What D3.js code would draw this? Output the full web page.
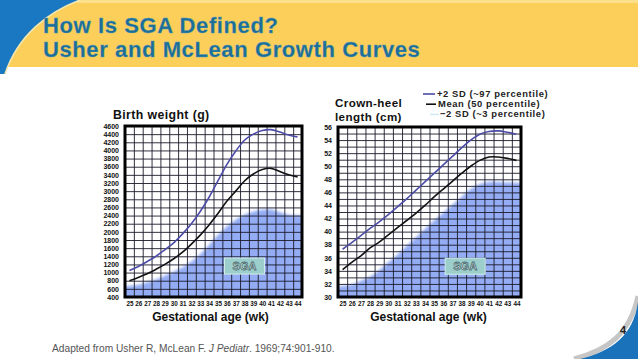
<!DOCTYPE html>
<html>
<head>
<meta charset="utf-8">
<script src="https://cdn.jsdelivr.net/npm/d3@7"></script>
<style>
  body { margin: 0; background: #fff; }
  text { font-family: "Liberation Sans", Arial, sans-serif; }
</style>
</head>
<body>
<div class="slide"></div>
<script>
// gestational age categories (weeks)
var weeks = [25,26,27,28,29,30,31,32,33,34,35,36,37,38,39,40,41,42,43,44];

// birth weight (g)
var bwPlus2 = [1050,1150,1270,1400,1560,1730,1950,2200,2500,2850,3250,3650,3980,4250,4400,4490,4510,4450,4380,4330];
var bwMean  = [800,880,970,1080,1200,1340,1500,1700,1920,2170,2450,2750,3000,3250,3420,3530,3560,3480,3400,3350];
var bwMinus2 = [650,700,760,830,920,1020,1130,1270,1450,1680,1920,2130,2300,2420,2500,2540,2550,2480,2420,2400];

// crown-heel length (cm)
var lenPlus2 = [37.3,38.3,39.4,40.5,41.5,42.6,43.8,45.0,46.3,47.6,48.9,50.2,51.5,52.8,54.0,54.9,55.3,55.4,55.2,54.9];
var lenMean  = [34.2,35.3,36.3,37.5,38.4,39.5,40.6,41.7,42.8,44.0,45.3,46.5,47.7,48.9,50.0,50.9,51.4,51.4,51.2,50.9];
var lenMinus2 = [31.5,31.9,32.5,33.1,34.1,35.3,36.5,37.8,39.1,40.4,41.7,42.9,44.1,45.3,46.5,47.3,47.6,47.6,47.5,47.4];

var bwTicks = d3.range(400, 4601, 200);
var lenTicks = d3.range(30, 57, 2);
var lenGrid = d3.range(30, 57, 1);

var legendLabels = ["+2 SD (~97 percentile)", "Mean  (50 percentile)", "\u22122 SD (~3 percentile)"];

var W = 638, H = 359;
var svg = d3.select(".slide").append("svg").attr("width", W).attr("height", H);
var defs = svg.append("defs");

// ---- slide decoration ----
svg.append("rect").attr("width", W).attr("height", 67).attr("fill", "#fbcf5a");
svg.append("rect").attr("width", W).attr("height", 3).attr("fill", "#fde08c");
svg.append("path")
  .attr("d", "M0,0 L80,0 C48,12 18,35 5,74 L0,74 Z")
  .attr("fill", "#1a78c2");
svg.append("path")
  .attr("d", "M80,0 C48,12 18,35 5,74")
  .attr("fill", "none").attr("stroke", "#f4e7b0").attr("stroke-width", 1.5);

// bottom right swoosh
svg.append("path")
  .attr("d", "M574,359 C608,350 630,334 638,296")
  .attr("fill", "none").attr("stroke", "#c6c6c6").attr("stroke-width", 5);
svg.append("path")
  .attr("d", "M580,359 C612,351 633,336 638,302 L638,359 Z")
  .attr("fill", "#1a72bb");

// title
var title = svg.append("g").attr("fill", "#1b6e98").attr("font-weight", "bold")
  .attr("font-size", "22px").attr("letter-spacing", "0.6px")
  .attr("stroke", "#5d9bb8").attr("stroke-width", 0.3);
title.append("text").attr("x", 43).attr("y", 33).text("How Is SGA Defined?");
title.append("text").attr("x", 43).attr("y", 57).text("Usher and McLean Growth Curves");

// footer
var foot = svg.append("text").attr("x", 52).attr("y", 352).attr("font-size", "10.2px").attr("fill", "#555");
foot.append("tspan").text("Adapted from Usher R, McLean F. ");
foot.append("tspan").attr("font-style", "italic").text("J Pediatr");
foot.append("tspan").text(". 1969;74:901-910.");
svg.append("text").attr("x", 620).attr("y", 334).attr("font-size", "11px")
  .attr("font-weight", "bold").attr("fill", "#222").text("4");

// blur for the SGA fill edge
defs.append("filter").attr("id", "soft")
  .attr("x", "-10%").attr("y", "-10%").attr("width", "120%").attr("height", "120%")
  .append("feGaussianBlur").attr("stdDeviation", 1.8);

var fontFam = '"Liberation Sans", Arial, sans-serif';

function drawChart(opt) {
  var x = d3.scaleLinear().domain([24.5, 44.5]).range([opt.left, opt.right]);
  var y = d3.scaleLinear().domain(opt.yDomain).range([opt.bottom, opt.top]);
  var g = svg.append("g");

  defs.append("clipPath").attr("id", opt.id + "clip")
    .append("rect").attr("x", opt.left).attr("y", opt.top)
    .attr("width", opt.right - opt.left).attr("height", opt.bottom - opt.top);

  var n = weeks.length;
  // area reaches the frame at both ends
  var area = d3.area()
    .x(function(d, i) {
      if (i === 0) return opt.left - 6;
      if (i === n - 1) return opt.right + 6;
      return x(d.week);
    })
    .y0(opt.bottom + 10)
    .y1(function(d) { return y(d.v); })
    .curve(d3.curveCatmullRom.alpha(0.5));

  var low = weeks.map(function(w, i) { return {week: w, v: opt.minus2[i]}; });

  g.append("g").attr("clip-path", "url(#" + opt.id + "clip)")
    .append("path").datum(low)
    .attr("d", area)
    .attr("fill", "#93acf3")
    .attr("filter", "url(#soft)");

  // grid
  g.append("g")
    .attr("transform", "translate(0," + opt.bottom + ")")
    .call(d3.axisBottom(x).tickValues(d3.range(24.5, 44.6, 1)).tickSize(-(opt.bottom - opt.top)).tickFormat(""))
    .call(function(a) { a.select(".domain").remove(); })
    .selectAll("line").attr("stroke", "#1a1a2a").attr("stroke-width", 0.9);
  g.append("g")
    .attr("transform", "translate(" + opt.left + ",0)")
    .call(d3.axisLeft(y).tickValues(opt.grid).tickSize(-(opt.right - opt.left)).tickFormat(""))
    .call(function(a) { a.select(".domain").remove(); })
    .selectAll("line").attr("stroke", "#1a1a2a").attr("stroke-width", 0.9);

  // curves
  var line = d3.line()
    .x(function(d) { return x(d.week); })
    .y(function(d) { return y(d.v); })
    .curve(d3.curveCatmullRom.alpha(0.5));

  var series = [
    {vals: opt.plus2, color: "#4c4ca8"},
    {vals: opt.mean, color: "#111"}
  ];
  g.append("g").attr("clip-path", "url(#" + opt.id + "clip)")
    .selectAll("path").data(series).enter().append("path")
    .attr("d", function(s) {
      return line(weeks.map(function(w, i) { return {week: w, v: s.vals[i]}; }));
    })
    .attr("fill", "none")
    .attr("stroke", function(s) { return s.color; })
    .attr("stroke-width", 1.6);

  // frame
  g.append("rect").attr("x", opt.left).attr("y", opt.top)
    .attr("width", opt.right - opt.left).attr("height", opt.bottom - opt.top)
    .attr("fill", "none").attr("stroke", "#000").attr("stroke-width", 3);

  // tick labels
  var yAx = g.append("g")
    .attr("transform", "translate(" + (opt.left - 2) + ",0)")
    .call(d3.axisLeft(y).tickValues(opt.ticks).tickSize(0).tickPadding(4).tickFormat(d3.format("d")));
  yAx.select(".domain").remove();
  yAx.selectAll("text").attr("font-size", "7px").attr("font-weight", "bold")
    .attr("fill", "#111").style("font-family", fontFam);

  var xAx = g.append("g")
    .attr("transform", "translate(0," + (opt.bottom + 1) + ")")
    .call(d3.axisBottom(x).tickValues(weeks).tickSize(0).tickPadding(4));
  xAx.select(".domain").remove();
  xAx.selectAll("text").attr("font-size", "6.3px").attr("font-weight", "bold")
    .attr("fill", "#111").style("font-family", fontFam);

  // SGA box
  var bx = x(opt.sga[0]), by = y(opt.sga[1]);
  g.append("rect").attr("x", bx - 20).attr("y", by - 8).attr("width", 40).attr("height", 16)
    .attr("fill", "#9ccfcc").attr("stroke", "#d2ecea").attr("stroke-width", 1);
  g.append("text").attr("x", bx).attr("y", by + 4).attr("text-anchor", "middle")
    .attr("font-size", "11px").attr("font-weight", "bold")
    .attr("fill", "#e6ecee").attr("stroke", "#4d6d72").attr("stroke-width", 0.8)
    .text("SGA");

  // x title
  g.append("text").attr("x", (opt.left + opt.right) / 2 + opt.xTitleShift).attr("y", 321)
    .attr("text-anchor", "middle").attr("font-size", "12px").attr("font-weight", "bold")
    .attr("fill", "#111").text("Gestational age (wk)");

  // y title
  var yt = g.append("text").attr("font-size", opt.yTitleSize).attr("font-weight", "bold")
    .attr("letter-spacing", "0.4px").attr("fill", "#111");
  opt.yTitle.forEach(function(t, i) {
    yt.append("tspan").attr("x", opt.yTitleX).attr("y", opt.yTitleY + i * 13.5).text(t);
  });
}

drawChart({
  id: "bw", left: 125, right: 302, top: 126, bottom: 297,
  yDomain: [400, 4600], ticks: bwTicks, grid: bwTicks,
  plus2: bwPlus2, mean: bwMean, minus2: bwMinus2,
  sga: [38, 1160], xTitleShift: -3,
  yTitle: ["Birth weight (g)"], yTitleX: 113, yTitleY: 119, yTitleSize: "12.3px"
});

drawChart({
  id: "len", left: 338, right: 521, top: 127, bottom: 297,
  yDomain: [30, 56], ticks: lenTicks, grid: lenGrid,
  plus2: lenPlus2, mean: lenMean, minus2: lenMinus2,
  sga: [38.4, 34.7], xTitleShift: -1,
  yTitle: ["Crown-heel", "length (cm)"], yTitleX: 335, yTitleY: 107, yTitleSize: "11.6px"
});

// legend
var legColors = ["#4c4ca8", "#111", "#cfeaf2"];
var legLines = [[423, 435], [426, 436], [430, 439]];
var legText = [437, 438, 440];
var leg = svg.append("g");
legendLabels.forEach(function(t, i) {
  var yy = 94 + i * 10.2;
  leg.append("line").attr("x1", legLines[i][0]).attr("x2", legLines[i][1])
    .attr("y1", yy).attr("y2", yy).attr("stroke", legColors[i]).attr("stroke-width", 1.6);
  leg.append("text").attr("x", legText[i]).attr("y", yy + 3).attr("font-size", "9.4px")
    .attr("font-weight", "bold").attr("letter-spacing", "0.6px").attr("fill", "#222").text(t);
});
</script>
</body>
</html>
